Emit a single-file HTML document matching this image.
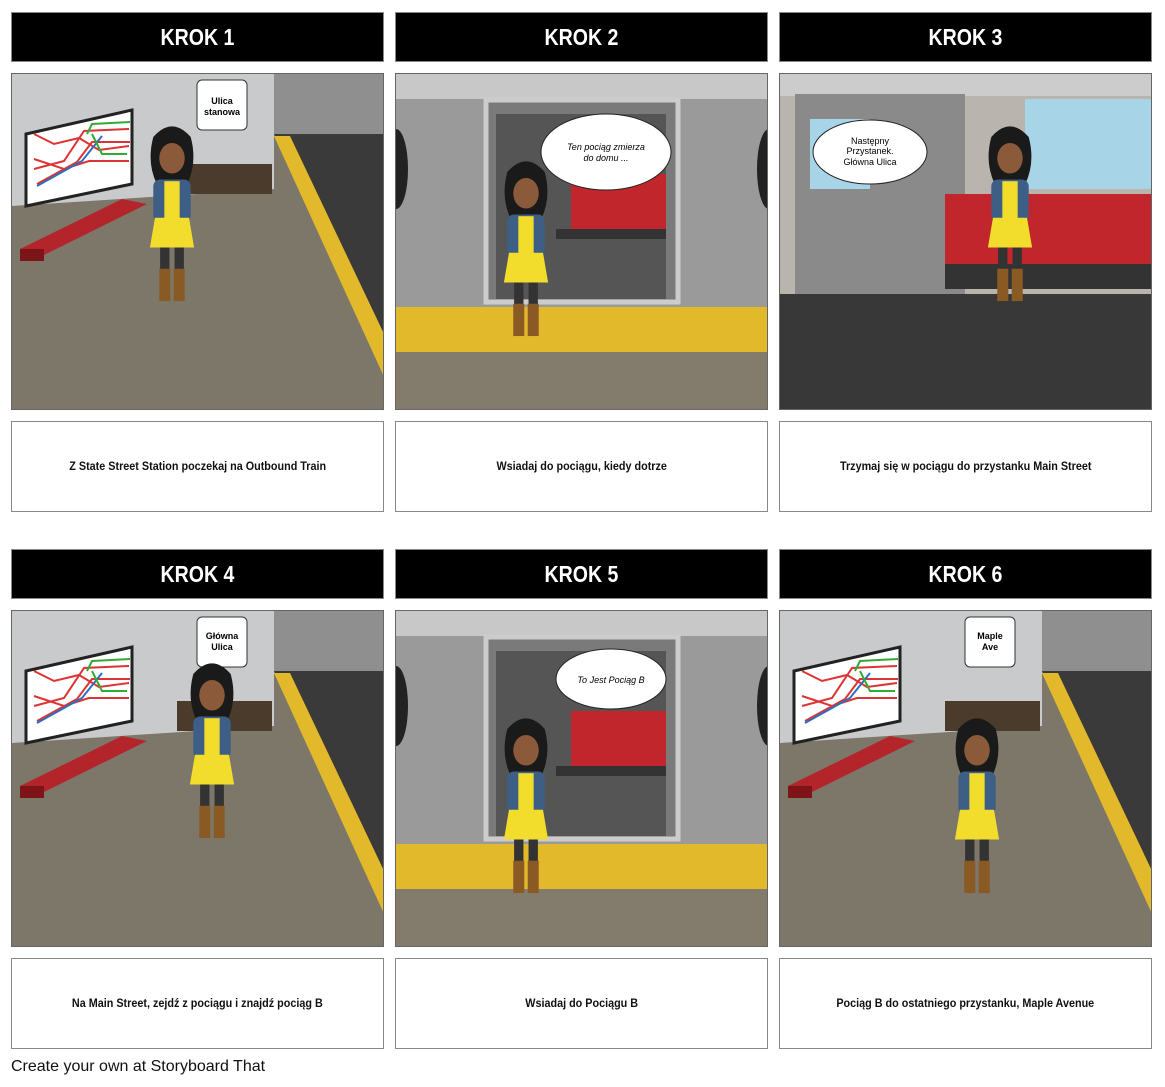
<!DOCTYPE html>
<html><head><meta charset="utf-8">
<style>
body{margin:0;background:#fff;width:1165px;height:1087px;position:relative;overflow:hidden;font-family:"Liberation Sans",sans-serif}
.h{position:absolute;width:371px;height:48px;background:#000;border:1px solid #888;color:#fff;font-weight:bold;font-size:23px;text-align:center;line-height:48px}
.h span{display:inline-block;transform:scaleX(.85)}
.s{position:absolute;width:371px;height:335px;border:1px solid #666;overflow:hidden}
.c{position:absolute;width:371px;height:89px;border:1px solid #888;background:#fff;font-weight:bold;font-size:12px;text-align:center;line-height:89px;color:#111}
.c span{display:inline-block;transform:scaleX(.9)}
.f{position:absolute;left:11px;top:1058px;font-size:16px;color:#111}
</style></head><body>
<svg width="0" height="0" style="position:absolute">
<defs>
<g id="girl">
 <path d="M-22,-120 q22,-25 44,0 q8,30 -4,55 l-36,0 q-12,-25 -4,-55z" fill="#1a1a1a"/>
 <ellipse cx="0" cy="-95" rx="15" ry="18" fill="#8a5a3a"/>
 <rect x="-22" y="-70" width="44" height="50" rx="8" fill="#3d5f86"/>
 <rect x="-9" y="-68" width="18" height="46" fill="#f2dd2c"/>
 <path d="M-20,-25 l40,0 l6,35 l-52,0z" fill="#f2dd2c"/>
 <rect x="-14" y="10" width="11" height="30" fill="#333"/><rect x="3" y="10" width="11" height="30" fill="#333"/>
 <rect x="-15" y="35" width="13" height="38" fill="#8a5a25"/><rect x="2" y="35" width="13" height="38" fill="#8a5a25"/>
</g>
<g id="plat">
 <rect width="373" height="337" fill="#c9cacb"/>
 <rect x="262" width="111" height="70" fill="#8f8f8f"/>
 <polygon points="262,60 373,60 373,290" fill="#3a3a3a"/>
 <polygon points="0,132 262,115 262,62 373,300 373,337 0,337" fill="#7d776a"/>
 <polygon points="262,62 278,62 373,262 373,305" fill="#e2b92a"/>
 <rect x="165" y="90" width="95" height="30" fill="#4a3b2c"/>
 <polygon points="14,60 120,36 120,110 14,132" fill="#fff" stroke="#222" stroke-width="3"/>
 <path d="M22,60 l20,10 l25,-6 l20,12 l30,-4 M22,95 l30,-8 l20,-30 l45,-2 M25,110 l40,-22 l15,-20 l38,0 M22,85 l30,10 l25,-8 l40,0" stroke="#d33" stroke-width="2" fill="none"/>
 <path d="M25,112 l45,-25 l20,-25" stroke="#2a6fc2" stroke-width="2" fill="none"/>
 <path d="M75,60 l5,-10 l38,-2 M80,60 l10,20 l25,0" stroke="#3a3" stroke-width="2" fill="none"/>
 <polygon points="8,175 110,125 135,130 30,182" fill="#b3252a"/>
 <rect x="8" y="175" width="24" height="12" fill="#7d1518"/>
 <rect x="185" y="6" width="50" height="50" rx="5" fill="#fff" stroke="#333"/>
</g>
<g id="door">
 <rect width="373" height="337" fill="#9a9a9a"/>
 <rect width="373" height="25" fill="#c8c8c8"/>
 <rect x="90" y="26" width="192" height="202" fill="#7a7a7a" stroke="#ccc" stroke-width="5"/>
 <rect x="100" y="40" width="170" height="185" fill="#555"/>
 <rect x="175" y="100" width="95" height="55" fill="#c0262c"/>
 <rect x="160" y="155" width="110" height="10" fill="#333"/>
 <rect x="0" y="233" width="373" height="45" fill="#e2b92a"/>
 <rect x="0" y="278" width="373" height="59" fill="#837c6c"/>
 <ellipse cx="0" cy="95" rx="12" ry="40" fill="#222"/><ellipse cx="373" cy="95" rx="12" ry="40" fill="#222"/>
</g>
</defs>
</svg>

<div class="h" style="left:11px;top:12px"><span>KROK 1</span></div>
<div class="h" style="left:395px;top:12px"><span>KROK 2</span></div>
<div class="h" style="left:779px;top:12px"><span>KROK 3</span></div>
<div class="h" style="left:11px;top:549px"><span>KROK 4</span></div>
<div class="h" style="left:395px;top:549px"><span>KROK 5</span></div>
<div class="h" style="left:779px;top:549px"><span>KROK 6</span></div>

<div class="s" style="left:11px;top:73px"><svg width="373" height="337"><use href="#plat"/><text x="210" y="30" font-size="9" text-anchor="middle" font-weight="bold">Ulica</text><text x="210" y="41" font-size="9" text-anchor="middle" font-weight="bold">stanowa</text><use href="#girl" transform="translate(160,165) scale(.85)"/></svg></div>
<div class="s" style="left:395px;top:73px"><svg width="373" height="337"><use href="#door"/><ellipse cx="210" cy="78" rx="65" ry="38" fill="#fff" stroke="#222"/><text x="210" y="76" font-size="9" text-anchor="middle" font-style="italic">Ten pociąg zmierza</text><text x="210" y="87" font-size="9" text-anchor="middle" font-style="italic">do domu ...</text><use href="#girl" transform="translate(130,200) scale(.85)"/></svg></div>
<div class="s" style="left:779px;top:73px"><svg width="373" height="337"><rect width="373" height="337" fill="#b9b4ad"/><rect width="373" height="22" fill="#ccc"/><rect x="15" y="20" width="170" height="200" fill="#8a8a8a"/><rect x="245" y="25" width="128" height="90" fill="#a8d4e8"/><rect x="30" y="45" width="60" height="70" fill="#a8d4e8"/><rect x="165" y="120" width="208" height="70" fill="#c0262c"/><rect x="165" y="190" width="208" height="25" fill="#333"/><rect x="0" y="220" width="373" height="117" fill="#383838"/><ellipse cx="90" cy="78" rx="57" ry="32" fill="#fff" stroke="#222"/><text x="90" y="70" font-size="9" text-anchor="middle">Następny</text><text x="90" y="80" font-size="9" text-anchor="middle">Przystanek.</text><text x="90" y="91" font-size="9" text-anchor="middle">Główna Ulica</text><use href="#girl" transform="translate(230,165) scale(.85)"/></svg></div>

<div class="s" style="left:11px;top:610px"><svg width="373" height="337"><use href="#plat"/><text x="210" y="28" font-size="9" text-anchor="middle" font-weight="bold">Główna</text><text x="210" y="39" font-size="9" text-anchor="middle" font-weight="bold">Ulica</text><use href="#girl" transform="translate(200,165) scale(.85)"/></svg></div>
<div class="s" style="left:395px;top:610px"><svg width="373" height="337"><use href="#door"/><ellipse cx="215" cy="68" rx="55" ry="30" fill="#fff" stroke="#222"/><text x="215" y="72" font-size="9" text-anchor="middle" font-style="italic">To Jest Pociąg B</text><use href="#girl" transform="translate(130,220) scale(.85)"/></svg></div>
<div class="s" style="left:779px;top:610px"><svg width="373" height="337"><use href="#plat"/><text x="210" y="28" font-size="9" text-anchor="middle" font-weight="bold">Maple</text><text x="210" y="39" font-size="9" text-anchor="middle" font-weight="bold">Ave</text><use href="#girl" transform="translate(197,220) scale(.85)"/></svg></div>

<div class="c" style="left:11px;top:421px"><span>Z State Street Station poczekaj na Outbound Train</span></div>
<div class="c" style="left:395px;top:421px"><span>Wsiadaj do pociągu, kiedy dotrze</span></div>
<div class="c" style="left:779px;top:421px"><span>Trzymaj się w pociągu do przystanku Main Street</span></div>
<div class="c" style="left:11px;top:958px"><span>Na Main Street, zejdź z pociągu i znajdź pociąg B</span></div>
<div class="c" style="left:395px;top:958px"><span>Wsiadaj do Pociągu B</span></div>
<div class="c" style="left:779px;top:958px"><span>Pociąg B do ostatniego przystanku, Maple Avenue</span></div>
<div class="f">Create your own at Storyboard That</div>
</body></html>
